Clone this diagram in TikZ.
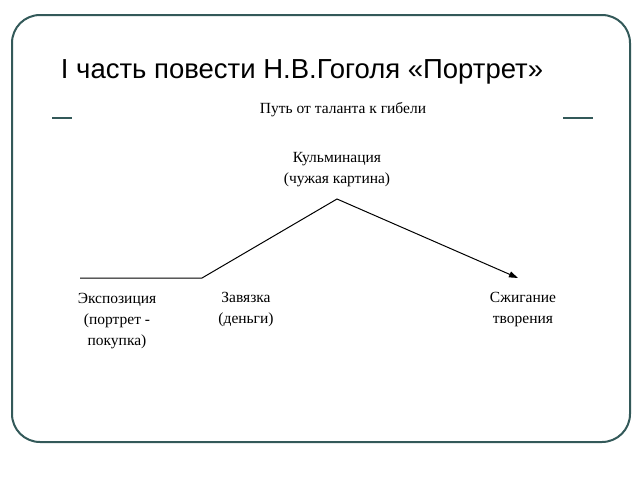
\documentclass[tikz,border=0pt]{standalone}
\usepackage{fontspec}
\setmainfont{Liberation Serif}
\newfontfamily\arialf{Liberation Sans}
\usetikzlibrary{arrows.meta}
\begin{document}
\begin{tikzpicture}[x=1pt,y=-1pt,
  lbl/.style={font=\fontsize{15.5}{21}\selectfont,align=center,inner sep=0pt},
  frm/.style={draw=black!50!teal!60!gray,line width=2pt,rounded corners=28pt}]
\useasboundingbox (0,0) rectangle (640,480);
\draw[frm] (12,15) rectangle (630,442);
\node[inner sep=0pt,font=\arialf\fontsize{27.5}{30}\selectfont] (title) at (302,72) {I часть повести Н.В.Гоголя «Портрет»};
\draw[draw=black!50!teal!60!gray,line width=2pt] (52,118) -- (72,118);
\draw[draw=black!50!teal!60!gray,line width=2pt] (563,118) -- (593,118);
\node[lbl] (sub) at (343,110) {Путь от таланта к гибели};
\coordinate (a) at (80,278);
\coordinate (b) at (202,278);
\coordinate (c) at (337,199);
\coordinate (d) at (518,278);
\draw[line width=1pt,-{Triangle[length=9pt,width=6pt]}] (a) -- (b) -- (c) -- (d);
\node[lbl] (kul) at (337,170) {Кульминация\\(чужая картина)};
\node[lbl] (eks) at (117,321) {Экспозиция\\(портрет -\\покупка)};
\node[lbl] (zav) at (246,310) {Завязка\\(деньги)};
\node[lbl] (szh) at (523,310) {Сжигание\\творения};
\end{tikzpicture}
\end{document}
